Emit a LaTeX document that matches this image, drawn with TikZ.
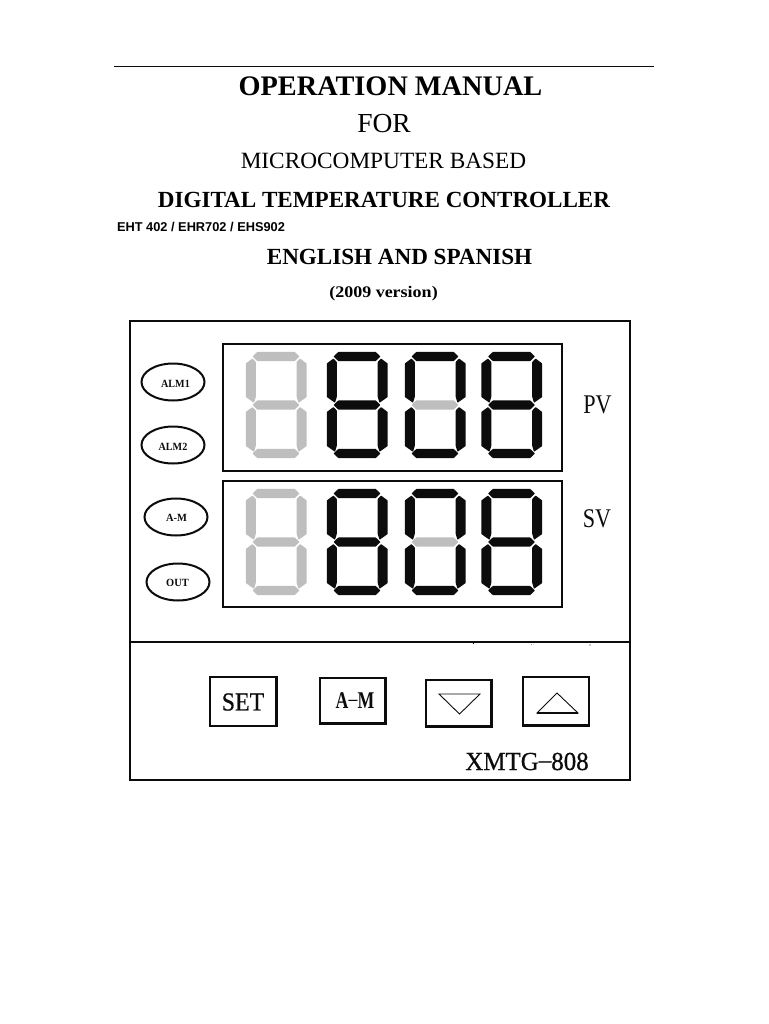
\documentclass[tikz,border=0pt]{standalone}
\usepackage{fontspec}
\setmainfont{Liberation Serif}
\newfontfamily\arialfont{Liberation Sans}
\newfontfamily\heavyfont[FakeBold=0.6]{Liberation Serif}
\definecolor{ink}{HTML}{0C0C0C}
\definecolor{offseg}{HTML}{BEBEBE}
\usetikzlibrary{shapes.geometric}
\tikzset{
  frame/.style={draw=ink,line width=2pt},
  lamp/.style={draw=ink,line width=2pt,ellipse,minimum width=#1,minimum height=37pt,inner sep=0pt},
  btn/.style={draw=ink,line width=2.4pt},
  glyph/.style={draw=ink,line width=.9pt,line join=miter},
  txt/.style={inner sep=0pt,outer sep=0pt,text=black,anchor=center},
  ink text/.style={inner sep=0pt,outer sep=0pt,text=ink,anchor=center}
}
\newcommand{\fs}[1]{\fontsize{#1}{#1}\selectfont}
\newcommand{\segH}[4]{% x1 x2 yc colour
  \fill[#4,rounded corners=.5pt] (#1-.5,#3) -- (#1+4.5,#3-4.7) -- (#2-4.5,#3-4.7) -- (#2+.5,#3) -- (#2-4.5,#3+4.7) -- (#1+4.5,#3+4.7) -- cycle;}
\newcommand{\segL}[4]{% x top bottom colour
  \fill[#4,rounded corners=.5pt] (#1-.2,#2+4) -- (#1+6.5,#2-1) -- (#1+9.8,#2+2.5) -- (#1+9.8,#3-5) -- (#1+8,#3+.8) -- (#1-.2,#3-5) -- cycle;}
\newcommand{\segR}[4]{% x(right) top bottom colour
  \fill[#4,rounded corners=.5pt] (#1+.2,#2+4) -- (#1-6.5,#2-1) -- (#1-9.8,#2+2.5) -- (#1-9.8,#3-5) -- (#1-8,#3+.8) -- (#1+.2,#3-5) -- cycle;}
\newcommand{\digit}[4]{% x0 y0 allcolour midcolour
  \segH{#1+7}{#1+53}{#2+4.5}{#3}
  \segH{#1+7}{#1+53}{#2+53}{#4}
  \segH{#1+7}{#1+53}{#2+101.5}{#3}
  \segL{#1}{#2+7.5}{#2+50}{#3}
  \segL{#1}{#2+56}{#2+99}{#3}
  \segR{#1+60.5}{#2+7.5}{#2+50}{#3}
  \segR{#1+60.5}{#2+56}{#2+99}{#3}}
\begin{document}
\begin{tikzpicture}[x=1pt,y=-1pt]
\useasboundingbox (0,0) rectangle (768,1024);
\fill[white] (0,0) rectangle (768,1024);
% header
\draw[ink,line width=1pt] (114,66.5) -- (654,66.5);
\node[txt] (t1) at (390.5,86) {\fs{28.3}\bfseries OPERATION MANUAL};
\node[txt] (t2) at (384,124) {\fs{27.5}FOR};
\node[txt] (t3) at (383.5,161) {\fs{23.3}MICROCOMPUTER BASED};
\node[txt] (t4) at (384,200) {\fs{23.1}\bfseries DIGITAL TEMPERATURE CONTROLLER};
\node[txt] (t5) at (201,227) {\fs{12.8}\arialfont\bfseries EHT 402 / EHR702 / EHS902};
\node[txt] (t6) at (399.5,257) {\fs{23.1}\bfseries ENGLISH AND SPANISH};
\node[txt] (t7) at (383.5,294) {\fs{18}\bfseries\scalebox{1}[.9]{(2009 version)}};
% panel
\draw[frame] (130,321) rectangle (630,780);
\draw[frame] (130,641.5) -- (630,641.5);
\draw[frame] (222.5,343.5) rectangle (562,471);
\draw[frame] (222.5,480.5) rectangle (562,607);
% display digits
\digit{246}{352}{offseg}{offseg}
\digit{327}{352}{ink}{ink}
\digit{405}{352}{ink}{offseg}
\digit{481.5}{352}{ink}{ink}
\digit{246}{489}{offseg}{offseg}
\digit{327}{489}{ink}{ink}
\digit{405}{489}{ink}{offseg}
\digit{481.5}{489}{ink}{ink}
% lamps
\node[lamp=63pt] (alm1) at (173,382) {};
\node[lamp=63pt] (alm2) at (173,445) {};
\node[lamp=63pt] (am) at (176,517) {};
\node[lamp=63pt] (out) at (178,582) {};
\node[ink text] (alm1t) at (175.5,384) {\fs{11}\bfseries\scalebox{.92}[1]{ALM1}};
\node[ink text] (alm2t) at (173,447) {\fs{11}\bfseries\scalebox{.92}[1]{ALM2}};
\node[ink text] (amt) at (176.5,518) {\fs{11}\bfseries\scalebox{.95}[1]{A-M}};
\node[ink text] (outt) at (177.5,583) {\fs{11}\bfseries\scalebox{.95}[1]{OUT}};
% side labels
\node[ink text] (pv) at (597.5,404.5) {\fs{27}\scalebox{.82}[1]{PV}};
\node[ink text] (sv) at (597,519) {\fs{27}\scalebox{.82}[1]{SV}};
% buttons
\draw[btn] (210,677) rectangle (276.5,726);
\draw[btn] (320,678) rectangle (385.5,723.5);
\draw[btn] (426,680) rectangle (491.5,726.5);
\draw[btn] (523,677) rectangle (589,725.5);
\node[ink text] (set) at (243,702) {\fs{26}\heavyfont\scalebox{.92}[1]{SET}};
\node[ink text] (amb) at (355,701) {\fs{24}\scalebox{.74}[1]{\bfseries A\raisebox{2pt}{\textmd{–}}M}};
\draw[glyph] (439,694) -- (480,694) -- (459.5,714) -- cycle;
\draw[glyph] (557,693) -- (578,713) -- (537,713) -- cycle;
\draw[ink,line width=1.3pt] (537,713) -- (578,713);
\node[ink text] (model) at (527,761.5) {\fs{26}\heavyfont\scalebox{.96}[1]{XMTG\raisebox{2pt}{–}808}};
% specks
\fill[ink] (473.5,643.5) circle (.6);
\fill[gray] (531.5,644.5) circle (.5);
\fill[ink] (590,645) circle (.6);
\end{tikzpicture}
\end{document}
